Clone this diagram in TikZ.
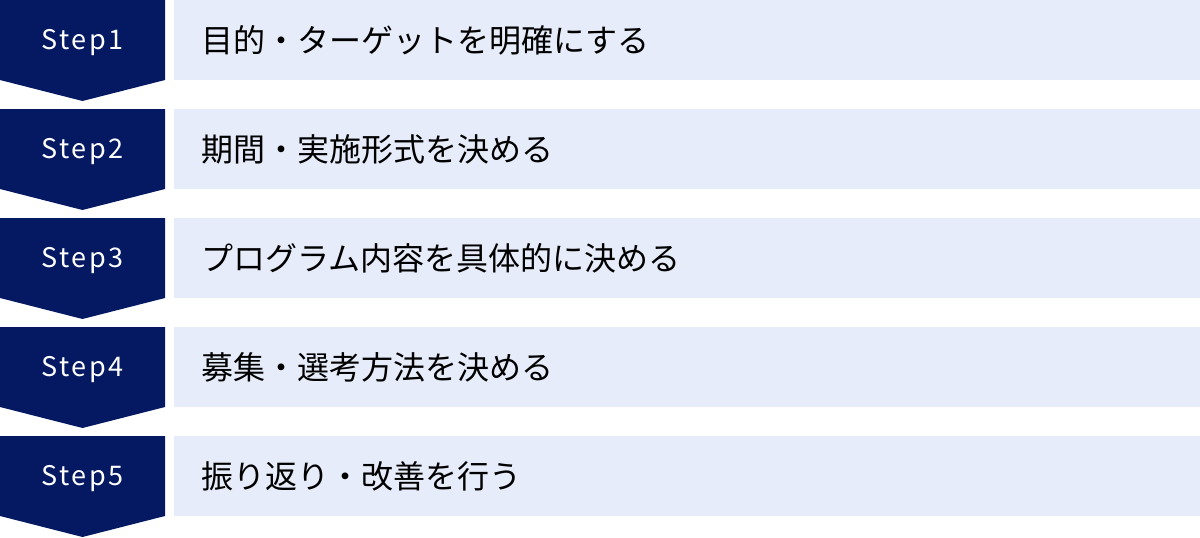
\documentclass[tikz,border=0pt]{standalone}
\usepackage{fontspec}
\setmainfont{Noto Sans CJK JP}
\newfontfamily\stepfont[LetterSpace=9]{Noto Sans CJK JP}
\definecolor{navy}{RGB}{4,25,97}
\definecolor{pale}{RGB}{230,236,249}
\tikzset{
  stepbox/.style={fill=navy},
  steplabel/.style={text=white,font=\stepfont\fontsize{27}{27}\selectfont,inner sep=0pt,anchor=base},
  itembox/.style={fill=pale,draw=none,minimum width=1026pt,minimum height=80pt,inner sep=0pt,anchor=north west},
  itemlabel/.style={text=black,font=\fontsize{32}{32}\selectfont,inner sep=0pt,anchor=west}
}
\begin{document}
\begin{tikzpicture}[x=1pt,y=-1pt]
\useasboundingbox (0,0) rectangle (1200,538);
\foreach \i/\t in {1/目的・ターゲットを明確にする,2/期間・実施形式を決める,3/プログラム内容を具体的に決める,4/募集・選考方法を決める,5/振り返り・改善を行う}{
  \pgfmathsetmacro{\y}{(\i-1)*109}
  \fill[stepbox] (0,\y) -- (165,\y) -- (165,\y+80) -- (82.5,\y+101) -- (0,\y+80) -- cycle;
  \node[steplabel] (s\i) at (82.5,\y+49.5) {Step\i};
  \node[itembox] (b\i) at (174,\y) {};
  \node[itemlabel] (t\i) at (201,\y+40) {\t};
}
\end{tikzpicture}
\end{document}
